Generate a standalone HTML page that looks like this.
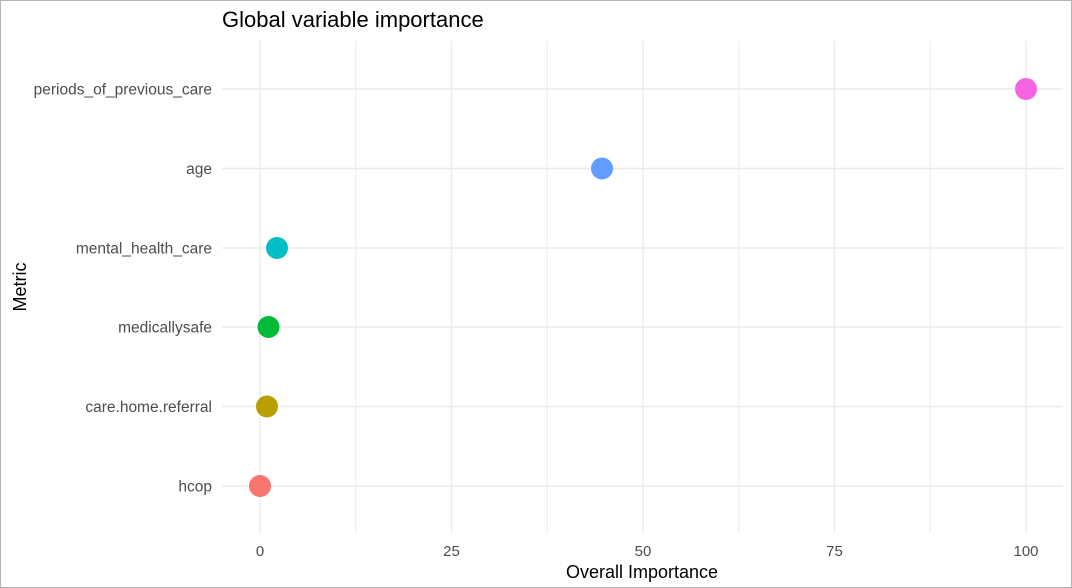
<!DOCTYPE html>
<html><head><style>body{margin:0;background:#fff}svg{display:block}</style></head><body>
<svg width="1072" height="588" xmlns="http://www.w3.org/2000/svg" font-family="Liberation Sans, sans-serif">
<rect x="0.5" y="0.5" width="1071" height="587" fill="#fff" stroke="#b5b5b5"/>
<g stroke="#ebebeb" stroke-width="1">
<line x1="355.75" y1="41" x2="355.75" y2="533"/><line x1="547.25" y1="41" x2="547.25" y2="533"/>
<line x1="738.75" y1="41" x2="738.75" y2="533"/><line x1="930.25" y1="41" x2="930.25" y2="533"/>
<g stroke-width="1.4">
<line x1="260" y1="41" x2="260" y2="533"/><line x1="451.5" y1="41" x2="451.5" y2="533"/>
<line x1="643" y1="41" x2="643" y2="533"/><line x1="834.5" y1="41" x2="834.5" y2="533"/>
<line x1="1026" y1="41" x2="1026" y2="533"/>
<line x1="222" y1="89" x2="1063" y2="89"/><line x1="222" y1="168.5" x2="1063" y2="168.5"/>
<line x1="222" y1="248" x2="1063" y2="248"/><line x1="222" y1="327" x2="1063" y2="327"/>
<line x1="222" y1="406.5" x2="1063" y2="406.5"/><line x1="222" y1="486" x2="1063" y2="486"/>
</g></g>
<circle cx="1026" cy="89" r="11" fill="#F564E3"/>
<circle cx="602" cy="168.5" r="11" fill="#619CFF"/>
<circle cx="277" cy="248" r="11" fill="#00BFC4"/>
<circle cx="268.5" cy="327" r="11" fill="#00BA38"/>
<circle cx="267" cy="406.5" r="11" fill="#B79F00"/>
<circle cx="260" cy="486" r="11" fill="#F8766D"/>
<g font-size="15.5" fill="#4d4d4d" text-anchor="end">
<text x="212" y="94.5">periods_of_previous_care</text>
<text x="212" y="174">age</text>
<text x="212" y="253.5">mental_health_care</text>
<text x="212" y="332.5">medicallysafe</text>
<text x="212" y="412">care.home.referral</text>
<text x="212" y="491.5">hcop</text>
</g>
<g font-size="15" fill="#4d4d4d" text-anchor="middle">
<text x="260" y="556">0</text><text x="451.5" y="556">25</text><text x="643" y="556">50</text>
<text x="834.5" y="556">75</text><text x="1026" y="556">100</text>
</g>
<text x="642" y="578" font-size="18" text-anchor="middle" fill="#000">Overall Importance</text>
<text transform="translate(26,287) rotate(-90)" font-size="18" text-anchor="middle" fill="#000">Metric</text>
<text x="222" y="27" font-size="22" fill="#000">Global variable importance</text>
</svg>
</body></html>
